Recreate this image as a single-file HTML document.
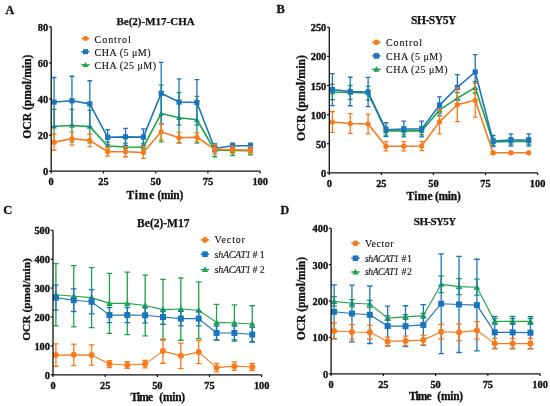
<!DOCTYPE html>
<html><head><meta charset="utf-8"><style>
html,body{margin:0;padding:0;background:#fff;width:550px;height:406px;overflow:hidden}
svg{display:block;will-change:transform}
text{font-family:'Liberation Serif', serif;fill:#111}
.tk{font-size:10.4px;font-weight:bold;stroke:#111;stroke-width:0.35px}
.pl{font-size:12px;font-weight:bold;stroke:#111;stroke-width:0.3px}
.ti{font-size:11px;font-weight:bold;stroke:#111;stroke-width:0.25px}
.ax{font-size:11.5px;font-weight:bold;stroke:#111;stroke-width:0.3px}
.lg{font-size:10px;letter-spacing:0.5px;fill:#111;stroke:#111;stroke-width:0.12px}
</style></head><body>
<svg width="550" height="406" viewBox="0 0 550 406">
<rect width="550" height="406" fill="#fff"/>
<polyline points="54.10,126.26 71.95,125.53 89.80,126.62 107.65,145.93 125.50,147.01 143.35,147.19 161.20,113.44 179.05,117.77 196.90,119.76 214.75,150.26 232.60,150.44 250.45,150.62" fill="none" stroke="#1fa449" stroke-width="1.6" stroke-linejoin="round"/>
<path d="M54.10 109.47V143.04M51.70 109.47H56.50M51.70 143.04H56.50" stroke="#1fa449" stroke-width="1.3" fill="none"/>
<path d="M71.95 109.29V141.78M69.55 109.29H74.35M69.55 141.78H74.35" stroke="#1fa449" stroke-width="1.3" fill="none"/>
<path d="M89.80 110.37V142.86M87.40 110.37H92.20M87.40 142.86H92.20" stroke="#1fa449" stroke-width="1.3" fill="none"/>
<path d="M107.65 141.96V149.90M105.25 141.96H110.05M105.25 149.90H110.05" stroke="#1fa449" stroke-width="1.3" fill="none"/>
<path d="M125.50 143.04V150.98M123.10 143.04H127.90M123.10 150.98H127.90" stroke="#1fa449" stroke-width="1.3" fill="none"/>
<path d="M143.35 143.22V151.16M140.95 143.22H145.75M140.95 151.16H145.75" stroke="#1fa449" stroke-width="1.3" fill="none"/>
<path d="M161.20 85.10V141.78M158.80 85.10H163.60M158.80 141.78H163.60" stroke="#1fa449" stroke-width="1.3" fill="none"/>
<path d="M179.05 92.68V142.86M176.65 92.68H181.45M176.65 142.86H181.45" stroke="#1fa449" stroke-width="1.3" fill="none"/>
<path d="M196.90 96.29V143.22M194.50 96.29H199.30M194.50 143.22H199.30" stroke="#1fa449" stroke-width="1.3" fill="none"/>
<path d="M214.75 143.76V156.76M212.35 143.76H217.15M212.35 156.76H217.15" stroke="#1fa449" stroke-width="1.3" fill="none"/>
<path d="M232.60 145.39V155.50M230.20 145.39H235.00M230.20 155.50H235.00" stroke="#1fa449" stroke-width="1.3" fill="none"/>
<path d="M250.45 146.47V154.77M248.05 146.47H252.85M248.05 154.77H252.85" stroke="#1fa449" stroke-width="1.3" fill="none"/>
<polygon points="54.10,123.29 57.00,128.48 51.20,128.48" fill="#1fa449"/>
<polygon points="71.95,122.57 74.85,127.76 69.05,127.76" fill="#1fa449"/>
<polygon points="89.80,123.65 92.70,128.84 86.90,128.84" fill="#1fa449"/>
<polygon points="107.65,142.97 110.55,148.15 104.75,148.15" fill="#1fa449"/>
<polygon points="125.50,144.05 128.40,149.24 122.60,149.24" fill="#1fa449"/>
<polygon points="143.35,144.23 146.25,149.42 140.45,149.42" fill="#1fa449"/>
<polygon points="161.20,110.48 164.10,115.66 158.30,115.66" fill="#1fa449"/>
<polygon points="179.05,114.81 181.95,119.99 176.15,119.99" fill="#1fa449"/>
<polygon points="196.90,116.79 199.80,121.98 194.00,121.98" fill="#1fa449"/>
<polygon points="214.75,147.30 217.65,152.49 211.85,152.49" fill="#1fa449"/>
<polygon points="232.60,147.48 235.50,152.67 229.70,152.67" fill="#1fa449"/>
<polygon points="250.45,147.66 253.35,152.85 247.55,152.85" fill="#1fa449"/>
<polyline points="54.10,102.07 71.95,100.80 89.80,103.87 107.65,137.27 125.50,136.90 143.35,137.09 161.20,93.22 179.05,102.07 196.90,102.43 214.75,148.46 232.60,145.75 250.45,145.75" fill="none" stroke="#1c75bc" stroke-width="1.6" stroke-linejoin="round"/>
<path d="M54.10 77.52V126.62M51.70 77.52H56.50M51.70 126.62H56.50" stroke="#1c75bc" stroke-width="1.3" fill="none"/>
<path d="M71.95 76.26V125.35M69.55 76.26H74.35M69.55 125.35H74.35" stroke="#1c75bc" stroke-width="1.3" fill="none"/>
<path d="M89.80 80.77V126.98M87.40 80.77H92.20M87.40 126.98H92.20" stroke="#1c75bc" stroke-width="1.3" fill="none"/>
<path d="M107.65 129.69V144.85M105.25 129.69H110.05M105.25 144.85H110.05" stroke="#1c75bc" stroke-width="1.3" fill="none"/>
<path d="M125.50 128.42V145.39M123.10 128.42H127.90M123.10 145.39H127.90" stroke="#1c75bc" stroke-width="1.3" fill="none"/>
<path d="M143.35 128.78V145.39M140.95 128.78H145.75M140.95 145.39H145.75" stroke="#1c75bc" stroke-width="1.3" fill="none"/>
<path d="M161.20 62.36V124.09M158.80 62.36H163.60M158.80 124.09H163.60" stroke="#1c75bc" stroke-width="1.3" fill="none"/>
<path d="M179.05 78.96V125.17M176.65 78.96H181.45M176.65 125.17H181.45" stroke="#1c75bc" stroke-width="1.3" fill="none"/>
<path d="M196.90 79.69V125.17M194.50 79.69H199.30M194.50 125.17H199.30" stroke="#1c75bc" stroke-width="1.3" fill="none"/>
<path d="M214.75 145.75V151.16M212.35 145.75H217.15M212.35 151.16H217.15" stroke="#1c75bc" stroke-width="1.3" fill="none"/>
<path d="M232.60 143.04V148.46M230.20 143.04H235.00M230.20 148.46H235.00" stroke="#1c75bc" stroke-width="1.3" fill="none"/>
<path d="M250.45 143.04V148.46M248.05 143.04H252.85M248.05 148.46H252.85" stroke="#1c75bc" stroke-width="1.3" fill="none"/>
<rect x="51.50" y="99.47" width="5.20" height="5.20" fill="#1c75bc"/>
<rect x="69.35" y="98.20" width="5.20" height="5.20" fill="#1c75bc"/>
<rect x="87.20" y="101.27" width="5.20" height="5.20" fill="#1c75bc"/>
<rect x="105.05" y="134.67" width="5.20" height="5.20" fill="#1c75bc"/>
<rect x="122.90" y="134.30" width="5.20" height="5.20" fill="#1c75bc"/>
<rect x="140.75" y="134.49" width="5.20" height="5.20" fill="#1c75bc"/>
<rect x="158.60" y="90.62" width="5.20" height="5.20" fill="#1c75bc"/>
<rect x="176.45" y="99.47" width="5.20" height="5.20" fill="#1c75bc"/>
<rect x="194.30" y="99.83" width="5.20" height="5.20" fill="#1c75bc"/>
<rect x="212.15" y="145.86" width="5.20" height="5.20" fill="#1c75bc"/>
<rect x="230.00" y="143.15" width="5.20" height="5.20" fill="#1c75bc"/>
<rect x="247.85" y="143.15" width="5.20" height="5.20" fill="#1c75bc"/>
<polyline points="54.10,142.14 71.95,138.71 89.80,140.33 107.65,151.71 125.50,151.71 143.35,152.43 161.20,131.85 179.05,137.81 196.90,137.27 214.75,149.36 232.60,149.72 250.45,150.26" fill="none" stroke="#f67b1e" stroke-width="1.6" stroke-linejoin="round"/>
<path d="M54.10 134.02V150.26M51.70 134.02H56.50M51.70 150.26H56.50" stroke="#f67b1e" stroke-width="1.3" fill="none"/>
<path d="M71.95 132.21V145.21M69.55 132.21H74.35M69.55 145.21H74.35" stroke="#f67b1e" stroke-width="1.3" fill="none"/>
<path d="M89.80 134.02V146.65M87.40 134.02H92.20M87.40 146.65H92.20" stroke="#f67b1e" stroke-width="1.3" fill="none"/>
<path d="M107.65 147.19V156.22M105.25 147.19H110.05M105.25 156.22H110.05" stroke="#f67b1e" stroke-width="1.3" fill="none"/>
<path d="M125.50 146.65V156.76M123.10 146.65H127.90M123.10 156.76H127.90" stroke="#f67b1e" stroke-width="1.3" fill="none"/>
<path d="M143.35 146.47V158.38M140.95 146.47H145.75M140.95 158.38H145.75" stroke="#f67b1e" stroke-width="1.3" fill="none"/>
<path d="M161.20 123.73V139.97M158.80 123.73H163.60M158.80 139.97H163.60" stroke="#f67b1e" stroke-width="1.3" fill="none"/>
<path d="M179.05 132.39V143.22M176.65 132.39H181.45M176.65 143.22H181.45" stroke="#f67b1e" stroke-width="1.3" fill="none"/>
<path d="M196.90 132.75V141.78M194.50 132.75H199.30M194.50 141.78H199.30" stroke="#f67b1e" stroke-width="1.3" fill="none"/>
<path d="M214.75 144.67V154.05M212.35 144.67H217.15M212.35 154.05H217.15" stroke="#f67b1e" stroke-width="1.3" fill="none"/>
<path d="M232.60 146.11V153.33M230.20 146.11H235.00M230.20 153.33H235.00" stroke="#f67b1e" stroke-width="1.3" fill="none"/>
<path d="M250.45 146.65V153.87M248.05 146.65H252.85M248.05 153.87H252.85" stroke="#f67b1e" stroke-width="1.3" fill="none"/>
<circle cx="54.10" cy="142.14" r="2.60" fill="#f67b1e"/>
<circle cx="71.95" cy="138.71" r="2.60" fill="#f67b1e"/>
<circle cx="89.80" cy="140.33" r="2.60" fill="#f67b1e"/>
<circle cx="107.65" cy="151.71" r="2.60" fill="#f67b1e"/>
<circle cx="125.50" cy="151.71" r="2.60" fill="#f67b1e"/>
<circle cx="143.35" cy="152.43" r="2.60" fill="#f67b1e"/>
<circle cx="161.20" cy="131.85" r="2.60" fill="#f67b1e"/>
<circle cx="179.05" cy="137.81" r="2.60" fill="#f67b1e"/>
<circle cx="196.90" cy="137.27" r="2.60" fill="#f67b1e"/>
<circle cx="214.75" cy="149.36" r="2.60" fill="#f67b1e"/>
<circle cx="232.60" cy="149.72" r="2.60" fill="#f67b1e"/>
<circle cx="250.45" cy="150.26" r="2.60" fill="#f67b1e"/>
<path d="M51.20 26.80V171.20H260.20" stroke="#111" stroke-width="1.3" fill="none"/>
<path d="M48.90 171.20H51.20" stroke="#111" stroke-width="1.2"/>
<text x="48.20" y="175.20" text-anchor="end" class="tk">0</text>
<path d="M48.90 135.10H51.20" stroke="#111" stroke-width="1.2"/>
<text x="48.20" y="139.10" text-anchor="end" class="tk">20</text>
<path d="M48.90 99.00H51.20" stroke="#111" stroke-width="1.2"/>
<text x="48.20" y="103.00" text-anchor="end" class="tk">40</text>
<path d="M48.90 62.90H51.20" stroke="#111" stroke-width="1.2"/>
<text x="48.20" y="66.90" text-anchor="end" class="tk">60</text>
<path d="M48.90 26.80H51.20" stroke="#111" stroke-width="1.2"/>
<text x="48.20" y="30.80" text-anchor="end" class="tk">80</text>
<path d="M51.20 171.20V173.50" stroke="#111" stroke-width="1.2"/>
<text x="51.20" y="185.00" text-anchor="middle" class="tk">0</text>
<path d="M103.45 171.20V173.50" stroke="#111" stroke-width="1.2"/>
<text x="103.45" y="185.00" text-anchor="middle" class="tk">25</text>
<path d="M155.70 171.20V173.50" stroke="#111" stroke-width="1.2"/>
<text x="155.70" y="185.00" text-anchor="middle" class="tk">50</text>
<path d="M207.95 171.20V173.50" stroke="#111" stroke-width="1.2"/>
<text x="207.95" y="185.00" text-anchor="middle" class="tk">75</text>
<path d="M260.20 171.20V173.50" stroke="#111" stroke-width="1.2"/>
<text x="260.20" y="185.00" text-anchor="middle" class="tk">100</text>
<polyline points="332.40,92.02 350.25,92.48 368.10,93.07 385.95,131.01 403.80,130.90 421.65,130.90 439.50,109.94 457.35,98.30 475.20,87.42 493.05,141.95 510.90,141.37 528.75,141.37" fill="none" stroke="#1fa449" stroke-width="1.6" stroke-linejoin="round"/>
<path d="M332.40 84.45V99.58M330.00 84.45H334.80M330.00 99.58H334.80" stroke="#1fa449" stroke-width="1.3" fill="none"/>
<path d="M350.25 85.50V99.47M347.85 85.50H352.65M347.85 99.47H352.65" stroke="#1fa449" stroke-width="1.3" fill="none"/>
<path d="M368.10 86.08V100.05M365.70 86.08H370.50M365.70 100.05H370.50" stroke="#1fa449" stroke-width="1.3" fill="none"/>
<path d="M385.95 126.94V135.09M383.55 126.94H388.35M383.55 135.09H388.35" stroke="#1fa449" stroke-width="1.3" fill="none"/>
<path d="M403.80 126.82V134.97M401.40 126.82H406.20M401.40 134.97H406.20" stroke="#1fa449" stroke-width="1.3" fill="none"/>
<path d="M421.65 126.82V134.97M419.25 126.82H424.05M419.25 134.97H424.05" stroke="#1fa449" stroke-width="1.3" fill="none"/>
<path d="M439.50 104.12V115.76M437.10 104.12H441.90M437.10 115.76H441.90" stroke="#1fa449" stroke-width="1.3" fill="none"/>
<path d="M457.35 92.48V104.12M454.95 92.48H459.75M454.95 104.12H459.75" stroke="#1fa449" stroke-width="1.3" fill="none"/>
<path d="M475.20 81.60V93.24M472.80 81.60H477.60M472.80 93.24H477.60" stroke="#1fa449" stroke-width="1.3" fill="none"/>
<path d="M493.05 138.46V145.45M490.65 138.46H495.45M490.65 145.45H495.45" stroke="#1fa449" stroke-width="1.3" fill="none"/>
<path d="M510.90 137.88V144.86M508.50 137.88H513.30M508.50 144.86H513.30" stroke="#1fa449" stroke-width="1.3" fill="none"/>
<path d="M528.75 137.88V144.86M526.35 137.88H531.15M526.35 144.86H531.15" stroke="#1fa449" stroke-width="1.3" fill="none"/>
<polygon points="332.40,89.05 335.30,94.24 329.50,94.24" fill="#1fa449"/>
<polygon points="350.25,89.52 353.15,94.71 347.35,94.71" fill="#1fa449"/>
<polygon points="368.10,90.10 371.00,95.29 365.20,95.29" fill="#1fa449"/>
<polygon points="385.95,128.05 388.85,133.24 383.05,133.24" fill="#1fa449"/>
<polygon points="403.80,127.93 406.70,133.12 400.90,133.12" fill="#1fa449"/>
<polygon points="421.65,127.93 424.55,133.12 418.75,133.12" fill="#1fa449"/>
<polygon points="439.50,106.98 442.40,112.17 436.60,112.17" fill="#1fa449"/>
<polygon points="457.35,95.34 460.25,100.53 454.45,100.53" fill="#1fa449"/>
<polygon points="475.20,84.46 478.10,89.64 472.30,89.64" fill="#1fa449"/>
<polygon points="493.05,138.99 495.95,144.18 490.15,144.18" fill="#1fa449"/>
<polygon points="510.90,138.41 513.80,143.60 508.00,143.60" fill="#1fa449"/>
<polygon points="528.75,138.41 531.65,143.60 525.85,143.60" fill="#1fa449"/>
<polyline points="332.40,89.57 350.25,91.49 368.10,92.02 385.95,129.73 403.80,128.98 421.65,128.98 439.50,105.11 457.35,87.42 475.20,72.00 493.05,141.02 510.90,139.98 528.75,139.98" fill="none" stroke="#1c75bc" stroke-width="1.6" stroke-linejoin="round"/>
<path d="M332.40 73.57V105.58M330.00 73.57H334.80M330.00 105.58H334.80" stroke="#1c75bc" stroke-width="1.3" fill="none"/>
<path d="M350.25 77.24V105.75M347.85 77.24H352.65M347.85 105.75H352.65" stroke="#1c75bc" stroke-width="1.3" fill="none"/>
<path d="M368.10 77.47V106.57M365.70 77.47H370.50M365.70 106.57H370.50" stroke="#1c75bc" stroke-width="1.3" fill="none"/>
<path d="M385.95 122.75V136.72M383.55 122.75H388.35M383.55 136.72H388.35" stroke="#1c75bc" stroke-width="1.3" fill="none"/>
<path d="M403.80 121.12V136.83M401.40 121.12H406.20M401.40 136.83H406.20" stroke="#1c75bc" stroke-width="1.3" fill="none"/>
<path d="M421.65 121.12V136.83M419.25 121.12H424.05M419.25 136.83H424.05" stroke="#1c75bc" stroke-width="1.3" fill="none"/>
<path d="M439.50 96.97V113.26M437.10 96.97H441.90M437.10 113.26H441.90" stroke="#1c75bc" stroke-width="1.3" fill="none"/>
<path d="M457.35 74.62V100.22M454.95 74.62H459.75M454.95 100.22H459.75" stroke="#1c75bc" stroke-width="1.3" fill="none"/>
<path d="M475.20 54.54V89.46M472.80 54.54H477.60M472.80 89.46H477.60" stroke="#1c75bc" stroke-width="1.3" fill="none"/>
<path d="M493.05 135.49V146.55M490.65 135.49H495.45M490.65 146.55H495.45" stroke="#1c75bc" stroke-width="1.3" fill="none"/>
<path d="M510.90 133.86V146.09M508.50 133.86H513.30M508.50 146.09H513.30" stroke="#1c75bc" stroke-width="1.3" fill="none"/>
<path d="M528.75 133.86V146.09M526.35 133.86H531.15M526.35 146.09H531.15" stroke="#1c75bc" stroke-width="1.3" fill="none"/>
<rect x="329.80" y="86.97" width="5.20" height="5.20" fill="#1c75bc"/>
<rect x="347.65" y="88.89" width="5.20" height="5.20" fill="#1c75bc"/>
<rect x="365.50" y="89.42" width="5.20" height="5.20" fill="#1c75bc"/>
<rect x="383.35" y="127.13" width="5.20" height="5.20" fill="#1c75bc"/>
<rect x="401.20" y="126.38" width="5.20" height="5.20" fill="#1c75bc"/>
<rect x="419.05" y="126.38" width="5.20" height="5.20" fill="#1c75bc"/>
<rect x="436.90" y="102.51" width="5.20" height="5.20" fill="#1c75bc"/>
<rect x="454.75" y="84.82" width="5.20" height="5.20" fill="#1c75bc"/>
<rect x="472.60" y="69.40" width="5.20" height="5.20" fill="#1c75bc"/>
<rect x="490.45" y="138.42" width="5.20" height="5.20" fill="#1c75bc"/>
<rect x="508.30" y="137.38" width="5.20" height="5.20" fill="#1c75bc"/>
<rect x="526.15" y="137.38" width="5.20" height="5.20" fill="#1c75bc"/>
<polyline points="332.40,121.99 350.25,123.50 368.10,124.03 385.95,146.20 403.80,146.20 421.65,146.03 439.50,121.70 457.35,104.71 475.20,100.28 493.05,152.78 510.90,152.78 528.75,152.78" fill="none" stroke="#f67b1e" stroke-width="1.6" stroke-linejoin="round"/>
<path d="M332.40 111.52V132.47M330.00 111.52H334.80M330.00 132.47H334.80" stroke="#f67b1e" stroke-width="1.3" fill="none"/>
<path d="M350.25 113.61V133.40M347.85 113.61H352.65M347.85 133.40H352.65" stroke="#f67b1e" stroke-width="1.3" fill="none"/>
<path d="M368.10 114.13V133.92M365.70 114.13H370.50M365.70 133.92H370.50" stroke="#f67b1e" stroke-width="1.3" fill="none"/>
<path d="M385.95 141.55V150.86M383.55 141.55H388.35M383.55 150.86H388.35" stroke="#f67b1e" stroke-width="1.3" fill="none"/>
<path d="M403.80 141.55V150.86M401.40 141.55H406.20M401.40 150.86H406.20" stroke="#f67b1e" stroke-width="1.3" fill="none"/>
<path d="M421.65 141.37V150.68M419.25 141.37H424.05M419.25 150.68H424.05" stroke="#f67b1e" stroke-width="1.3" fill="none"/>
<path d="M439.50 109.48V133.92M437.10 109.48H441.90M437.10 133.92H441.90" stroke="#f67b1e" stroke-width="1.3" fill="none"/>
<path d="M457.35 87.83V121.58M454.95 87.83H459.75M454.95 121.58H459.75" stroke="#f67b1e" stroke-width="1.3" fill="none"/>
<path d="M475.20 83.40V117.16M472.80 83.40H477.60M472.80 117.16H477.60" stroke="#f67b1e" stroke-width="1.3" fill="none"/>
<path d="M493.05 151.32V154.23M490.65 151.32H495.45M490.65 154.23H495.45" stroke="#f67b1e" stroke-width="1.3" fill="none"/>
<path d="M510.90 151.32V154.23M508.50 151.32H513.30M508.50 154.23H513.30" stroke="#f67b1e" stroke-width="1.3" fill="none"/>
<path d="M528.75 151.32V154.23M526.35 151.32H531.15M526.35 154.23H531.15" stroke="#f67b1e" stroke-width="1.3" fill="none"/>
<circle cx="332.40" cy="121.99" r="2.60" fill="#f67b1e"/>
<circle cx="350.25" cy="123.50" r="2.60" fill="#f67b1e"/>
<circle cx="368.10" cy="124.03" r="2.60" fill="#f67b1e"/>
<circle cx="385.95" cy="146.20" r="2.60" fill="#f67b1e"/>
<circle cx="403.80" cy="146.20" r="2.60" fill="#f67b1e"/>
<circle cx="421.65" cy="146.03" r="2.60" fill="#f67b1e"/>
<circle cx="439.50" cy="121.70" r="2.60" fill="#f67b1e"/>
<circle cx="457.35" cy="104.71" r="2.60" fill="#f67b1e"/>
<circle cx="475.20" cy="100.28" r="2.60" fill="#f67b1e"/>
<circle cx="493.05" cy="152.78" r="2.60" fill="#f67b1e"/>
<circle cx="510.90" cy="152.78" r="2.60" fill="#f67b1e"/>
<circle cx="528.75" cy="152.78" r="2.60" fill="#f67b1e"/>
<path d="M329.30 27.30V172.80H537.60" stroke="#111" stroke-width="1.3" fill="none"/>
<path d="M327.00 172.80H329.30" stroke="#111" stroke-width="1.2"/>
<text x="326.30" y="176.80" text-anchor="end" class="tk">0</text>
<path d="M327.00 143.70H329.30" stroke="#111" stroke-width="1.2"/>
<text x="326.30" y="147.70" text-anchor="end" class="tk">50</text>
<path d="M327.00 114.60H329.30" stroke="#111" stroke-width="1.2"/>
<text x="326.30" y="118.60" text-anchor="end" class="tk">100</text>
<path d="M327.00 85.50H329.30" stroke="#111" stroke-width="1.2"/>
<text x="326.30" y="89.50" text-anchor="end" class="tk">150</text>
<path d="M327.00 56.40H329.30" stroke="#111" stroke-width="1.2"/>
<text x="326.30" y="60.40" text-anchor="end" class="tk">200</text>
<path d="M327.00 27.30H329.30" stroke="#111" stroke-width="1.2"/>
<text x="326.30" y="31.30" text-anchor="end" class="tk">250</text>
<path d="M329.30 172.80V175.10" stroke="#111" stroke-width="1.2"/>
<text x="329.30" y="186.60" text-anchor="middle" class="tk">0</text>
<path d="M381.38 172.80V175.10" stroke="#111" stroke-width="1.2"/>
<text x="381.38" y="186.60" text-anchor="middle" class="tk">25</text>
<path d="M433.45 172.80V175.10" stroke="#111" stroke-width="1.2"/>
<text x="433.45" y="186.60" text-anchor="middle" class="tk">50</text>
<path d="M485.53 172.80V175.10" stroke="#111" stroke-width="1.2"/>
<text x="485.53" y="186.60" text-anchor="middle" class="tk">75</text>
<path d="M537.60 172.80V175.10" stroke="#111" stroke-width="1.2"/>
<text x="537.60" y="186.60" text-anchor="middle" class="tk">100</text>
<polyline points="55.90,294.75 73.75,296.28 91.60,297.64 109.45,303.42 127.30,303.42 145.15,305.53 163.00,309.63 180.85,309.02 198.70,310.24 216.55,322.38 234.40,322.98 252.25,323.96" fill="none" stroke="#1fa449" stroke-width="1.15" stroke-linejoin="round"/>
<path d="M55.90 263.54V325.96M53.10 263.54H58.70M53.10 325.96H58.70" stroke="#1fa449" stroke-width="1.3" fill="none"/>
<path d="M73.75 265.64V326.91M70.95 265.64H76.55M70.95 326.91H76.55" stroke="#1fa449" stroke-width="1.3" fill="none"/>
<path d="M91.60 267.58V327.69M88.80 267.58H94.40M88.80 327.69H94.40" stroke="#1fa449" stroke-width="1.3" fill="none"/>
<path d="M109.45 273.36V333.47M106.65 273.36H112.25M106.65 333.47H112.25" stroke="#1fa449" stroke-width="1.3" fill="none"/>
<path d="M127.30 272.21V334.63M124.50 272.21H130.10M124.50 334.63H130.10" stroke="#1fa449" stroke-width="1.3" fill="none"/>
<path d="M145.15 275.18V335.87M142.35 275.18H147.95M142.35 335.87H147.95" stroke="#1fa449" stroke-width="1.3" fill="none"/>
<path d="M163.00 279.29V339.98M160.20 279.29H165.80M160.20 339.98H165.80" stroke="#1fa449" stroke-width="1.3" fill="none"/>
<path d="M180.85 277.81V340.24M178.05 277.81H183.65M178.05 340.24H183.65" stroke="#1fa449" stroke-width="1.3" fill="none"/>
<path d="M198.70 281.92V338.56M195.90 281.92H201.50M195.90 338.56H201.50" stroke="#1fa449" stroke-width="1.3" fill="none"/>
<path d="M216.55 304.46V340.29M213.75 304.46H219.35M213.75 340.29H219.35" stroke="#1fa449" stroke-width="1.3" fill="none"/>
<path d="M234.40 304.78V341.19M231.60 304.78H237.20M231.60 341.19H237.20" stroke="#1fa449" stroke-width="1.3" fill="none"/>
<path d="M252.25 305.76V342.17M249.45 305.76H255.05M249.45 342.17H255.05" stroke="#1fa449" stroke-width="1.3" fill="none"/>
<polygon points="55.90,291.33 59.20,297.31 52.60,297.31" fill="#1fa449"/>
<polygon points="73.75,292.86 77.05,298.84 70.45,298.84" fill="#1fa449"/>
<polygon points="91.60,294.22 94.90,300.20 88.30,300.20" fill="#1fa449"/>
<polygon points="109.45,300.00 112.75,305.98 106.15,305.98" fill="#1fa449"/>
<polygon points="127.30,300.00 130.60,305.98 124.00,305.98" fill="#1fa449"/>
<polygon points="145.15,302.11 148.45,308.09 141.85,308.09" fill="#1fa449"/>
<polygon points="163.00,306.21 166.30,312.20 159.70,312.20" fill="#1fa449"/>
<polygon points="180.85,305.60 184.15,311.59 177.55,311.59" fill="#1fa449"/>
<polygon points="198.70,306.82 202.00,312.80 195.40,312.80" fill="#1fa449"/>
<polygon points="216.55,318.96 219.85,324.94 213.25,324.94" fill="#1fa449"/>
<polygon points="234.40,319.56 237.70,325.55 231.10,325.55" fill="#1fa449"/>
<polygon points="252.25,320.54 255.55,326.53 248.95,326.53" fill="#1fa449"/>
<polyline points="55.90,297.64 73.75,300.24 91.60,301.74 109.45,315.09 127.30,315.09 145.15,315.27 163.00,317.00 180.85,318.59 198.70,318.59 216.55,332.95 234.40,332.95 252.25,334.54" fill="none" stroke="#1c75bc" stroke-width="1.15" stroke-linejoin="round"/>
<path d="M55.90 285.21V310.06M53.10 285.21H58.70M53.10 310.06H58.70" stroke="#1c75bc" stroke-width="1.3" fill="none"/>
<path d="M73.75 288.97V311.51M70.95 288.97H76.55M70.95 311.51H76.55" stroke="#1c75bc" stroke-width="1.3" fill="none"/>
<path d="M91.60 289.60V313.88M88.80 289.60H94.40M88.80 313.88H94.40" stroke="#1c75bc" stroke-width="1.3" fill="none"/>
<path d="M109.45 307.58V322.61M106.65 307.58H112.25M106.65 322.61H112.25" stroke="#1c75bc" stroke-width="1.3" fill="none"/>
<path d="M127.30 307.58V322.61M124.50 307.58H130.10M124.50 322.61H130.10" stroke="#1c75bc" stroke-width="1.3" fill="none"/>
<path d="M145.15 307.75V322.78M142.35 307.75H147.95M142.35 322.78H147.95" stroke="#1c75bc" stroke-width="1.3" fill="none"/>
<path d="M163.00 309.78V324.23M160.20 309.78H165.80M160.20 324.23H165.80" stroke="#1c75bc" stroke-width="1.3" fill="none"/>
<path d="M180.85 311.36V325.81M178.05 311.36H183.65M178.05 325.81H183.65" stroke="#1c75bc" stroke-width="1.3" fill="none"/>
<path d="M198.70 311.36V325.81M195.90 311.36H201.50M195.90 325.81H201.50" stroke="#1c75bc" stroke-width="1.3" fill="none"/>
<path d="M216.55 326.02V339.89M213.75 326.02H219.35M213.75 339.89H219.35" stroke="#1c75bc" stroke-width="1.3" fill="none"/>
<path d="M234.40 326.02V339.89M231.60 326.02H237.20M231.60 339.89H237.20" stroke="#1c75bc" stroke-width="1.3" fill="none"/>
<path d="M252.25 327.32V341.77M249.45 327.32H255.05M249.45 341.77H255.05" stroke="#1c75bc" stroke-width="1.3" fill="none"/>
<rect x="52.90" y="294.64" width="6.00" height="6.00" fill="#1c75bc"/>
<rect x="70.75" y="297.24" width="6.00" height="6.00" fill="#1c75bc"/>
<rect x="88.60" y="298.74" width="6.00" height="6.00" fill="#1c75bc"/>
<rect x="106.45" y="312.09" width="6.00" height="6.00" fill="#1c75bc"/>
<rect x="124.30" y="312.09" width="6.00" height="6.00" fill="#1c75bc"/>
<rect x="142.15" y="312.27" width="6.00" height="6.00" fill="#1c75bc"/>
<rect x="160.00" y="314.00" width="6.00" height="6.00" fill="#1c75bc"/>
<rect x="177.85" y="315.59" width="6.00" height="6.00" fill="#1c75bc"/>
<rect x="195.70" y="315.59" width="6.00" height="6.00" fill="#1c75bc"/>
<rect x="213.55" y="329.95" width="6.00" height="6.00" fill="#1c75bc"/>
<rect x="231.40" y="329.95" width="6.00" height="6.00" fill="#1c75bc"/>
<rect x="249.25" y="331.54" width="6.00" height="6.00" fill="#1c75bc"/>
<polyline points="55.90,355.06 73.75,354.86 91.60,355.06 109.45,364.05 127.30,364.97 145.15,364.11 163.00,351.10 180.85,355.87 198.70,352.08 216.55,367.63 234.40,366.13 252.25,367.00" fill="none" stroke="#f67b1e" stroke-width="1.15" stroke-linejoin="round"/>
<path d="M55.90 343.79V366.33M53.10 343.79H58.70M53.10 366.33H58.70" stroke="#f67b1e" stroke-width="1.3" fill="none"/>
<path d="M73.75 344.17V365.55M70.95 344.17H76.55M70.95 365.55H76.55" stroke="#f67b1e" stroke-width="1.3" fill="none"/>
<path d="M91.60 344.95V365.18M88.80 344.95H94.40M88.80 365.18H94.40" stroke="#f67b1e" stroke-width="1.3" fill="none"/>
<path d="M109.45 360.58V367.52M106.65 360.58H112.25M106.65 367.52H112.25" stroke="#f67b1e" stroke-width="1.3" fill="none"/>
<path d="M127.30 361.65V368.30M124.50 361.65H130.10M124.50 368.30H130.10" stroke="#f67b1e" stroke-width="1.3" fill="none"/>
<path d="M145.15 360.35V367.86M142.35 360.35H147.95M142.35 367.86H147.95" stroke="#f67b1e" stroke-width="1.3" fill="none"/>
<path d="M163.00 338.96V363.24M160.20 338.96H165.80M160.20 363.24H165.80" stroke="#f67b1e" stroke-width="1.3" fill="none"/>
<path d="M180.85 343.15V368.59M178.05 343.15H183.65M178.05 368.59H183.65" stroke="#f67b1e" stroke-width="1.3" fill="none"/>
<path d="M198.70 340.52V363.64M195.90 340.52H201.50M195.90 363.64H201.50" stroke="#f67b1e" stroke-width="1.3" fill="none"/>
<path d="M216.55 363.44V371.82M213.75 363.44H219.35M213.75 371.82H219.35" stroke="#f67b1e" stroke-width="1.3" fill="none"/>
<path d="M234.40 361.94V370.32M231.60 361.94H237.20M231.60 370.32H237.20" stroke="#f67b1e" stroke-width="1.3" fill="none"/>
<path d="M252.25 363.38V370.61M249.45 363.38H255.05M249.45 370.61H255.05" stroke="#f67b1e" stroke-width="1.3" fill="none"/>
<circle cx="55.90" cy="355.06" r="3.00" fill="#f67b1e"/>
<circle cx="73.75" cy="354.86" r="3.00" fill="#f67b1e"/>
<circle cx="91.60" cy="355.06" r="3.00" fill="#f67b1e"/>
<circle cx="109.45" cy="364.05" r="3.00" fill="#f67b1e"/>
<circle cx="127.30" cy="364.97" r="3.00" fill="#f67b1e"/>
<circle cx="145.15" cy="364.11" r="3.00" fill="#f67b1e"/>
<circle cx="163.00" cy="351.10" r="3.00" fill="#f67b1e"/>
<circle cx="180.85" cy="355.87" r="3.00" fill="#f67b1e"/>
<circle cx="198.70" cy="352.08" r="3.00" fill="#f67b1e"/>
<circle cx="216.55" cy="367.63" r="3.00" fill="#f67b1e"/>
<circle cx="234.40" cy="366.13" r="3.00" fill="#f67b1e"/>
<circle cx="252.25" cy="367.00" r="3.00" fill="#f67b1e"/>
<path d="M53.00 230.30V374.80H261.70" stroke="#111" stroke-width="1.3" fill="none"/>
<path d="M50.70 374.80H53.00" stroke="#111" stroke-width="1.2"/>
<text x="50.00" y="378.80" text-anchor="end" class="tk">0</text>
<path d="M50.70 345.90H53.00" stroke="#111" stroke-width="1.2"/>
<text x="50.00" y="349.90" text-anchor="end" class="tk">100</text>
<path d="M50.70 317.00H53.00" stroke="#111" stroke-width="1.2"/>
<text x="50.00" y="321.00" text-anchor="end" class="tk">200</text>
<path d="M50.70 288.10H53.00" stroke="#111" stroke-width="1.2"/>
<text x="50.00" y="292.10" text-anchor="end" class="tk">300</text>
<path d="M50.70 259.20H53.00" stroke="#111" stroke-width="1.2"/>
<text x="50.00" y="263.20" text-anchor="end" class="tk">400</text>
<path d="M50.70 230.30H53.00" stroke="#111" stroke-width="1.2"/>
<text x="50.00" y="234.30" text-anchor="end" class="tk">500</text>
<path d="M53.00 374.80V377.10" stroke="#111" stroke-width="1.2"/>
<text x="53.00" y="388.60" text-anchor="middle" class="tk">0</text>
<path d="M105.18 374.80V377.10" stroke="#111" stroke-width="1.2"/>
<text x="105.18" y="388.60" text-anchor="middle" class="tk">25</text>
<path d="M157.35 374.80V377.10" stroke="#111" stroke-width="1.2"/>
<text x="157.35" y="388.60" text-anchor="middle" class="tk">50</text>
<path d="M209.53 374.80V377.10" stroke="#111" stroke-width="1.2"/>
<text x="209.53" y="388.60" text-anchor="middle" class="tk">75</text>
<path d="M261.70 374.80V377.10" stroke="#111" stroke-width="1.2"/>
<text x="261.70" y="388.60" text-anchor="middle" class="tk">100</text>
<polyline points="334.10,301.40 351.95,303.22 369.80,303.95 387.65,318.14 405.50,316.87 423.35,315.59 441.20,284.31 459.05,286.63 476.90,287.22 494.75,321.41 512.60,321.41 530.45,321.41" fill="none" stroke="#1fa449" stroke-width="1.15" stroke-linejoin="round"/>
<path d="M334.10 296.67V306.13M331.30 296.67H336.90M331.30 306.13H336.90" stroke="#1fa449" stroke-width="1.3" fill="none"/>
<path d="M351.95 299.58V306.86M349.15 299.58H354.75M349.15 306.86H354.75" stroke="#1fa449" stroke-width="1.3" fill="none"/>
<path d="M369.80 300.31V307.59M367.00 300.31H372.60M367.00 307.59H372.60" stroke="#1fa449" stroke-width="1.3" fill="none"/>
<path d="M387.65 315.96V320.32M384.85 315.96H390.45M384.85 320.32H390.45" stroke="#1fa449" stroke-width="1.3" fill="none"/>
<path d="M405.50 314.68V319.05M402.70 314.68H408.30M402.70 319.05H408.30" stroke="#1fa449" stroke-width="1.3" fill="none"/>
<path d="M423.35 313.41V317.77M420.55 313.41H426.15M420.55 317.77H426.15" stroke="#1fa449" stroke-width="1.3" fill="none"/>
<path d="M441.20 275.94V292.67M438.40 275.94H444.00M438.40 292.67H444.00" stroke="#1fa449" stroke-width="1.3" fill="none"/>
<path d="M459.05 278.63V294.64M456.25 278.63H461.85M456.25 294.64H461.85" stroke="#1fa449" stroke-width="1.3" fill="none"/>
<path d="M476.90 279.21V295.22M474.10 279.21H479.70M474.10 295.22H479.70" stroke="#1fa449" stroke-width="1.3" fill="none"/>
<path d="M494.75 318.50V324.32M491.95 318.50H497.55M491.95 324.32H497.55" stroke="#1fa449" stroke-width="1.3" fill="none"/>
<path d="M512.60 318.50V324.32M509.80 318.50H515.40M509.80 324.32H515.40" stroke="#1fa449" stroke-width="1.3" fill="none"/>
<path d="M530.45 318.50V324.32M527.65 318.50H533.25M527.65 324.32H533.25" stroke="#1fa449" stroke-width="1.3" fill="none"/>
<polygon points="334.10,297.98 337.40,303.97 330.80,303.97" fill="#1fa449"/>
<polygon points="351.95,299.80 355.25,305.79 348.65,305.79" fill="#1fa449"/>
<polygon points="369.80,300.53 373.10,306.52 366.50,306.52" fill="#1fa449"/>
<polygon points="387.65,314.72 390.95,320.70 384.35,320.70" fill="#1fa449"/>
<polygon points="405.50,313.45 408.80,319.43 402.20,319.43" fill="#1fa449"/>
<polygon points="423.35,312.17 426.65,318.16 420.05,318.16" fill="#1fa449"/>
<polygon points="441.20,280.89 444.50,286.87 437.90,286.87" fill="#1fa449"/>
<polygon points="459.05,283.21 462.35,289.20 455.75,289.20" fill="#1fa449"/>
<polygon points="476.90,283.80 480.20,289.78 473.60,289.78" fill="#1fa449"/>
<polygon points="494.75,317.99 498.05,323.98 491.45,323.98" fill="#1fa449"/>
<polygon points="512.60,317.99 515.90,323.98 509.30,323.98" fill="#1fa449"/>
<polygon points="530.45,317.99 533.75,323.98 527.15,323.98" fill="#1fa449"/>
<polyline points="334.10,311.77 351.95,313.48 369.80,314.76 387.65,326.11 405.50,326.14 423.35,324.91 441.20,303.70 459.05,304.50 476.90,305.08 494.75,332.33 512.60,332.33 530.45,332.69" fill="none" stroke="#1c75bc" stroke-width="1.15" stroke-linejoin="round"/>
<path d="M334.10 284.85V338.69M331.30 284.85H336.90M331.30 338.69H336.90" stroke="#1c75bc" stroke-width="1.3" fill="none"/>
<path d="M351.95 285.11V341.86M349.15 285.11H354.75M349.15 341.86H354.75" stroke="#1c75bc" stroke-width="1.3" fill="none"/>
<path d="M369.80 286.02V343.50M367.00 286.02H372.60M367.00 343.50H372.60" stroke="#1c75bc" stroke-width="1.3" fill="none"/>
<path d="M387.65 306.10V346.11M384.85 306.10H390.45M384.85 346.11H390.45" stroke="#1c75bc" stroke-width="1.3" fill="none"/>
<path d="M405.50 305.77V346.51M402.70 305.77H408.30M402.70 346.51H408.30" stroke="#1c75bc" stroke-width="1.3" fill="none"/>
<path d="M423.35 304.53V345.28M420.55 304.53H426.15M420.55 345.28H426.15" stroke="#1c75bc" stroke-width="1.3" fill="none"/>
<path d="M441.20 253.86V353.54M438.40 253.86H444.00M438.40 353.54H444.00" stroke="#1c75bc" stroke-width="1.3" fill="none"/>
<path d="M459.05 256.47V352.52M456.25 256.47H461.85M456.25 352.52H461.85" stroke="#1c75bc" stroke-width="1.3" fill="none"/>
<path d="M476.90 259.24V350.92M474.10 259.24H479.70M474.10 350.92H479.70" stroke="#1c75bc" stroke-width="1.3" fill="none"/>
<path d="M494.75 316.32V348.33M491.95 316.32H497.55M491.95 348.33H497.55" stroke="#1c75bc" stroke-width="1.3" fill="none"/>
<path d="M512.60 316.32V348.33M509.80 316.32H515.40M509.80 348.33H515.40" stroke="#1c75bc" stroke-width="1.3" fill="none"/>
<path d="M530.45 316.68V348.70M527.65 316.68H533.25M527.65 348.70H533.25" stroke="#1c75bc" stroke-width="1.3" fill="none"/>
<rect x="331.10" y="308.77" width="6.00" height="6.00" fill="#1c75bc"/>
<rect x="348.95" y="310.48" width="6.00" height="6.00" fill="#1c75bc"/>
<rect x="366.80" y="311.76" width="6.00" height="6.00" fill="#1c75bc"/>
<rect x="384.65" y="323.11" width="6.00" height="6.00" fill="#1c75bc"/>
<rect x="402.50" y="323.14" width="6.00" height="6.00" fill="#1c75bc"/>
<rect x="420.35" y="321.91" width="6.00" height="6.00" fill="#1c75bc"/>
<rect x="438.20" y="300.70" width="6.00" height="6.00" fill="#1c75bc"/>
<rect x="456.05" y="301.50" width="6.00" height="6.00" fill="#1c75bc"/>
<rect x="473.90" y="302.08" width="6.00" height="6.00" fill="#1c75bc"/>
<rect x="491.75" y="329.33" width="6.00" height="6.00" fill="#1c75bc"/>
<rect x="509.60" y="329.33" width="6.00" height="6.00" fill="#1c75bc"/>
<rect x="527.45" y="329.69" width="6.00" height="6.00" fill="#1c75bc"/>
<polyline points="334.10,331.02 351.95,332.00 369.80,332.33 387.65,341.42 405.50,340.88 423.35,340.11 441.20,331.71 459.05,332.33 476.90,330.33 494.75,343.60 512.60,343.60 530.45,343.60" fill="none" stroke="#f67b1e" stroke-width="1.15" stroke-linejoin="round"/>
<path d="M334.10 323.01V339.02M331.30 323.01H336.90M331.30 339.02H336.90" stroke="#f67b1e" stroke-width="1.3" fill="none"/>
<path d="M351.95 324.72V339.28M349.15 324.72H354.75M349.15 339.28H354.75" stroke="#f67b1e" stroke-width="1.3" fill="none"/>
<path d="M369.80 325.41V339.24M367.00 325.41H372.60M367.00 339.24H372.60" stroke="#f67b1e" stroke-width="1.3" fill="none"/>
<path d="M387.65 337.06V345.79M384.85 337.06H390.45M384.85 345.79H390.45" stroke="#f67b1e" stroke-width="1.3" fill="none"/>
<path d="M405.50 336.15V345.61M402.70 336.15H408.30M402.70 345.61H408.30" stroke="#f67b1e" stroke-width="1.3" fill="none"/>
<path d="M423.35 335.38V344.84M420.55 335.38H426.15M420.55 344.84H426.15" stroke="#f67b1e" stroke-width="1.3" fill="none"/>
<path d="M441.20 324.43V338.98M438.40 324.43H444.00M438.40 338.98H444.00" stroke="#f67b1e" stroke-width="1.3" fill="none"/>
<path d="M459.05 323.96V340.69M456.25 323.96H461.85M456.25 340.69H461.85" stroke="#f67b1e" stroke-width="1.3" fill="none"/>
<path d="M476.90 321.59V339.06M474.10 321.59H479.70M474.10 339.06H479.70" stroke="#f67b1e" stroke-width="1.3" fill="none"/>
<path d="M494.75 338.33V348.88M491.95 338.33H497.55M491.95 348.88H497.55" stroke="#f67b1e" stroke-width="1.3" fill="none"/>
<path d="M512.60 338.33V348.88M509.80 338.33H515.40M509.80 348.88H515.40" stroke="#f67b1e" stroke-width="1.3" fill="none"/>
<path d="M530.45 338.33V348.88M527.65 338.33H533.25M527.65 348.88H533.25" stroke="#f67b1e" stroke-width="1.3" fill="none"/>
<circle cx="334.10" cy="331.02" r="3.00" fill="#f67b1e"/>
<circle cx="351.95" cy="332.00" r="3.00" fill="#f67b1e"/>
<circle cx="369.80" cy="332.33" r="3.00" fill="#f67b1e"/>
<circle cx="387.65" cy="341.42" r="3.00" fill="#f67b1e"/>
<circle cx="405.50" cy="340.88" r="3.00" fill="#f67b1e"/>
<circle cx="423.35" cy="340.11" r="3.00" fill="#f67b1e"/>
<circle cx="441.20" cy="331.71" r="3.00" fill="#f67b1e"/>
<circle cx="459.05" cy="332.33" r="3.00" fill="#f67b1e"/>
<circle cx="476.90" cy="330.33" r="3.00" fill="#f67b1e"/>
<circle cx="494.75" cy="343.60" r="3.00" fill="#f67b1e"/>
<circle cx="512.60" cy="343.60" r="3.00" fill="#f67b1e"/>
<circle cx="530.45" cy="343.60" r="3.00" fill="#f67b1e"/>
<path d="M331.10 228.28V373.80H540.10" stroke="#111" stroke-width="1.3" fill="none"/>
<path d="M328.80 373.80H331.10" stroke="#111" stroke-width="1.2"/>
<text x="328.10" y="377.80" text-anchor="end" class="tk">0</text>
<path d="M328.80 337.42H331.10" stroke="#111" stroke-width="1.2"/>
<text x="328.10" y="341.42" text-anchor="end" class="tk">100</text>
<path d="M328.80 301.04H331.10" stroke="#111" stroke-width="1.2"/>
<text x="328.10" y="305.04" text-anchor="end" class="tk">200</text>
<path d="M328.80 264.66H331.10" stroke="#111" stroke-width="1.2"/>
<text x="328.10" y="268.66" text-anchor="end" class="tk">300</text>
<path d="M328.80 228.28H331.10" stroke="#111" stroke-width="1.2"/>
<text x="328.10" y="232.28" text-anchor="end" class="tk">400</text>
<path d="M331.10 373.80V376.10" stroke="#111" stroke-width="1.2"/>
<text x="331.10" y="387.60" text-anchor="middle" class="tk">0</text>
<path d="M383.35 373.80V376.10" stroke="#111" stroke-width="1.2"/>
<text x="383.35" y="387.60" text-anchor="middle" class="tk">25</text>
<path d="M435.60 373.80V376.10" stroke="#111" stroke-width="1.2"/>
<text x="435.60" y="387.60" text-anchor="middle" class="tk">50</text>
<path d="M487.85 373.80V376.10" stroke="#111" stroke-width="1.2"/>
<text x="487.85" y="387.60" text-anchor="middle" class="tk">75</text>
<path d="M540.10 373.80V376.10" stroke="#111" stroke-width="1.2"/>
<text x="540.10" y="387.60" text-anchor="middle" class="tk">100</text>

<text x="5.5" y="14" class="pl">A</text>
<text x="276.6" y="13.4" class="pl" style="font-size:12.5px">B</text>
<text x="3.3" y="213.9" class="pl" style="font-size:12.5px">C</text>
<text x="280.5" y="214.4" class="pl">D</text>
<text x="155.6" y="25.3" text-anchor="middle" class="ti">Be(2)-M17-CHA</text>
<text x="433.4" y="24.3" text-anchor="middle" class="ti" style="font-size:11.6px" letter-spacing="-0.5">SH-SY5Y</text>
<text x="163.3" y="226.8" text-anchor="middle" class="ti" style="font-size:11.5px">Be(2)-M17</text>
<text x="434.7" y="225.1" text-anchor="middle" class="ti" letter-spacing="-0.6">SH-SY5Y</text>
<text x="126.4" y="198.9" class="ax" letter-spacing="0.9">Time</text><text x="157.4" y="198.9" class="ax" letter-spacing="-0.25">(min)</text>
<text x="406.6" y="200.2" class="ax" letter-spacing="0.2">Time</text><text x="434.9" y="200.2" class="ax" letter-spacing="-0.25">(min)</text>
<text x="130.5" y="400.9" class="ax" letter-spacing="-0.95">Time</text><text x="159.3" y="400.9" class="ax" letter-spacing="-0.25">(min)</text>
<text x="409.1" y="399.9" class="ax" letter-spacing="-0.95">Time</text><text x="437.3" y="399.9" class="ax" letter-spacing="-0.25">(min)</text>
<text transform="translate(31.4,96.65) rotate(-90)" text-anchor="middle" class="ax" style="font-size:11.6px">OCR (pmol/min)</text>
<text transform="translate(305,97.95) rotate(-90)" text-anchor="middle" class="ax" style="font-size:11.85px">OCR (pmol/min)</text>
<text transform="translate(30.2,299.45) rotate(-90)" text-anchor="middle" class="ax" style="font-size:11.4px">OCR (pmol/min)</text>
<text transform="translate(304.6,298.6) rotate(-90)" text-anchor="middle" class="ax" style="font-size:11.5px">OCR (pmol/min)</text>

<path d="M81.20 38.60H89.80" stroke="#f67b1e" stroke-width="1.4"/>
<circle cx="85.50" cy="38.60" r="2.50" fill="#f67b1e"/>
<text x="94.60" y="42.50" class="lg"><tspan letter-spacing="0.95">Control</tspan></text>
<path d="M81.20 51.70H89.80" stroke="#1c75bc" stroke-width="1.4"/>
<rect x="83.00" y="49.20" width="5.00" height="5.00" fill="#1c75bc"/>
<text x="94.60" y="55.60" class="lg">CHA (5 μM)</text>
<path d="M81.20 64.80H89.80" stroke="#1fa449" stroke-width="1.4"/>
<polygon points="85.50,61.95 88.30,66.94 82.70,66.94" fill="#1fa449"/>
<text x="94.60" y="68.70" class="lg">CHA (25 μM)</text><path d="M372.10 42.30H380.70" stroke="#f67b1e" stroke-width="1.4"/>
<circle cx="376.40" cy="42.30" r="2.80" fill="#f67b1e"/>
<text x="386.00" y="46.20" class="lg"><tspan letter-spacing="0.9">Control</tspan></text>
<path d="M372.10 55.90H380.70" stroke="#1c75bc" stroke-width="1.4"/>
<rect x="373.60" y="53.10" width="5.60" height="5.60" fill="#1c75bc"/>
<text x="386.00" y="59.80" class="lg">CHA (5 μM)</text>
<path d="M372.10 69.30H380.70" stroke="#1fa449" stroke-width="1.4"/>
<polygon points="376.40,66.11 379.50,71.69 373.30,71.69" fill="#1fa449"/>
<text x="386.00" y="73.20" class="lg">CHA (25 μM)</text><path d="M200.70 239.90H209.30" stroke="#f67b1e" stroke-width="1.4"/>
<circle cx="205.00" cy="239.90" r="2.80" fill="#f67b1e"/>
<text x="214.60" y="243.30" class="lg"><tspan letter-spacing="0.85">Vector</tspan></text>
<path d="M200.70 254.20H209.30" stroke="#1c75bc" stroke-width="1.4"/>
<rect x="202.20" y="251.40" width="5.60" height="5.60" fill="#1c75bc"/>
<text x="214.60" y="257.60" class="lg"><tspan font-style="italic" letter-spacing="-0.3">shACAT1</tspan><tspan x="252.6" letter-spacing="-0.2"># 1</tspan></text>
<path d="M200.70 269.50H209.30" stroke="#1fa449" stroke-width="1.4"/>
<polygon points="205.00,266.31 208.10,271.89 201.90,271.89" fill="#1fa449"/>
<text x="214.60" y="272.90" class="lg"><tspan font-style="italic" letter-spacing="-0.3">shACAT1</tspan><tspan x="252.6" letter-spacing="-0.2"># 2</tspan></text><path d="M351.20 243.30H359.80" stroke="#f67b1e" stroke-width="1.4"/>
<circle cx="355.50" cy="243.30" r="2.80" fill="#f67b1e"/>
<text x="365.00" y="246.70" class="lg">Vector</text>
<path d="M351.20 258.20H359.80" stroke="#1c75bc" stroke-width="1.4"/>
<rect x="352.70" y="255.40" width="5.60" height="5.60" fill="#1c75bc"/>
<text x="365.00" y="261.60" class="lg"><tspan font-style="italic" letter-spacing="-0.45" style="font-size:9.6px">shACAT1</tspan><tspan x="401.6" letter-spacing="0.5">#1</tspan></text>
<path d="M351.20 272.00H359.80" stroke="#1fa449" stroke-width="1.4"/>
<polygon points="355.50,268.81 358.60,274.39 352.40,274.39" fill="#1fa449"/>
<text x="365.00" y="275.40" class="lg"><tspan font-style="italic" letter-spacing="-0.45" style="font-size:9.6px">shACAT1</tspan><tspan x="401.6" letter-spacing="0.5">#2</tspan></text>
</svg>
</body></html>
